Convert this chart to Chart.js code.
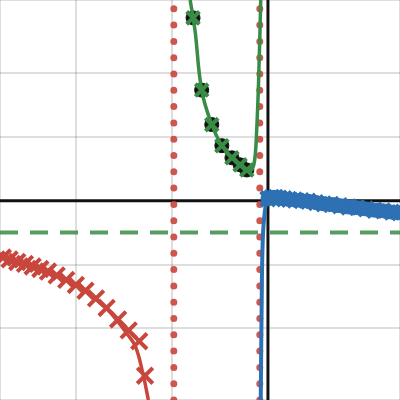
<!DOCTYPE html>
<html>
<head>
<script src="https://cdn.jsdelivr.net/npm/chart.js@4.4.0/dist/chart.umd.min.js"></script>
<style>html,body{margin:0;background:#fff}#c{width:400px;height:400px}</style>
</head>
<body>
<div id="c"><canvas id="chart"></canvas></div>
<script>
// x range / y range of the view
const xMin = -2.79, xMax = 1.375, yMin = -3.12, yMax = 3.14;

const greenLineX = [-0.81, -0.76, -0.69, -0.585, -0.48, -0.375, -0.29, -0.22, -0.17, -0.138, -0.117, -0.097, -0.075];
const greenLineY = [3.14, 2.67, 1.73, 1.19, 0.86, 0.67, 0.56, 0.48, 0.48, 0.64, 1.11, 1.89, 3.14];
const greenMarkX = [-0.78, -0.69, -0.585, -0.48, -0.375, -0.29, -0.22];
const greenMarkY = [2.86, 1.73, 1.19, 0.86, 0.67, 0.56, 0.48];

const blueLineX = [-0.075, -0.065, -0.054, -0.032, 0, 0.073, 0.33, 0.64, 0.95, 1.375];
const blueLineY = [-3.12, -1.55, -0.61, -0.17, 0.02, 0.05, 0, -0.06, -0.125, -0.2];
const blueMarkX = [0.0, 0.04, 0.08, 0.12, 0.17, 0.22, 0.28, 0.35, 0.42, 0.5, 0.58, 0.66, 0.75, 0.84, 0.93, 1.02, 1.11, 1.2, 1.29, 1.37];
const blueMarkY = [0.03, 0.05, 0.05, 0.04, 0.03, 0.02, 0.01, 0.0, -0.01, -0.03, -0.05, -0.06, -0.08, -0.1, -0.11, -0.13, -0.15, -0.16, -0.18, -0.19];

const redX = [-2.8, -2.74, -2.66, -2.585, -2.505, -2.43, -2.35, -2.27, -2.19, -2.1, -2.02, -1.93, -1.84, -1.75, -1.66, -1.57, -1.47, -1.38, -1.3, -1.245];
const redY = [-0.88, -0.9, -0.93, -0.97, -1.0, -1.04, -1.08, -1.12, -1.17, -1.24, -1.31, -1.39, -1.48, -1.6, -1.72, -1.88, -2.08, -2.28, -2.72, -3.12];
const redMarkX = [-2.76, -2.69, -2.61, -2.53, -2.45, -2.37, -2.29, -2.2, -2.1, -2.0, -1.9, -1.79, -1.68, -1.56, -1.45, -1.34, -1.28];
const redMarkY = [-0.89, -0.92, -0.96, -0.99, -1.03, -1.07, -1.11, -1.17, -1.24, -1.32, -1.41, -1.53, -1.68, -1.86, -2.03, -2.2, -2.74];

const vAsym = [-0.98, -0.085];
const hAsym = -0.5;

const pts = (xs, ys) => xs.map((x, i) => ({ x, y: ys[i] }));
const red = '#c9463d', green = '#388c46', blue = '#2d70b3';

// first dataset is drawn on top
const datasets = [
  { data: pts(blueMarkX, blueMarkY), showLine: false, pointStyle: 'cross', rotation: 45, pointRadius: 10, borderColor: blue, borderWidth: 4.5 },
  { data: pts(blueMarkX, blueMarkY), showLine: false, pointStyle: 'circle', pointRadius: 7, backgroundColor: blue, borderColor: blue },
  { data: pts(blueLineX, blueLineY), showLine: true, borderColor: blue, borderWidth: 4, pointRadius: 0, tension: 0.4 },
  { data: pts(greenMarkX, greenMarkY), showLine: false, pointStyle: 'cross', rotation: 45, pointRadius: 9, borderColor: green, borderWidth: 4 },
  { data: pts(greenLineX, greenLineY), showLine: true, borderColor: green, borderWidth: 3.5, pointRadius: 0, tension: 0.4 },
  { data: pts(greenMarkX, greenMarkY), showLine: false, pointStyle: 'circle', pointRadius: 7, backgroundColor: '#111', borderColor: '#111' },
  { data: pts(redMarkX, redMarkY), showLine: false, pointStyle: 'cross', rotation: 45, pointRadius: 11, borderColor: red, borderWidth: 4 },
  { data: pts(redX, redY), showLine: true, borderColor: red, borderWidth: 3.5, pointRadius: 0, tension: 0.4 },
  ...vAsym.map(v => ({ data: [{x: v, y: yMin}, {x: v, y: yMax}], showLine: true, borderColor: 'rgba(201,70,61,0.9)', borderWidth: 7, borderDash: [0, 16.3], borderCapStyle: 'round', pointRadius: 0 })),
  { data: [{x: xMin, y: hAsym}, {x: xMax, y: hAsym}], showLine: true, borderColor: 'rgba(56,140,70,0.85)', borderWidth: 4, borderDash: [18, 12], pointRadius: 0 },
  { data: [{x: 0, y: yMin}, {x: 0, y: yMax}], showLine: true, borderColor: '#111', borderWidth: 3, pointRadius: 0 },
  { data: [{x: xMin, y: 0}, {x: xMax, y: 0}], showLine: true, borderColor: '#111', borderWidth: 3, pointRadius: 0 }
];

new Chart(document.getElementById('chart'), {
  type: 'scatter',
  data: { datasets },
  options: {
    responsive: true, maintainAspectRatio: false, animation: false,
    layout: { padding: 0, autoPadding: false },
    plugins: { legend: { display: false }, tooltip: { enabled: false } },
    scales: {
      x: { type: 'linear', min: xMin, max: xMax, ticks: { display: false, stepSize: 1 },
           grid: { color: 'rgba(0,0,0,0.13)', lineWidth: 2, drawTicks: false }, border: { display: false } },
      y: { type: 'linear', min: yMin, max: yMax, ticks: { display: false, stepSize: 1 },
           grid: { color: 'rgba(0,0,0,0.13)', lineWidth: 2, drawTicks: false }, border: { display: false } }
    }
  }
});
</script>
</body>
</html>
